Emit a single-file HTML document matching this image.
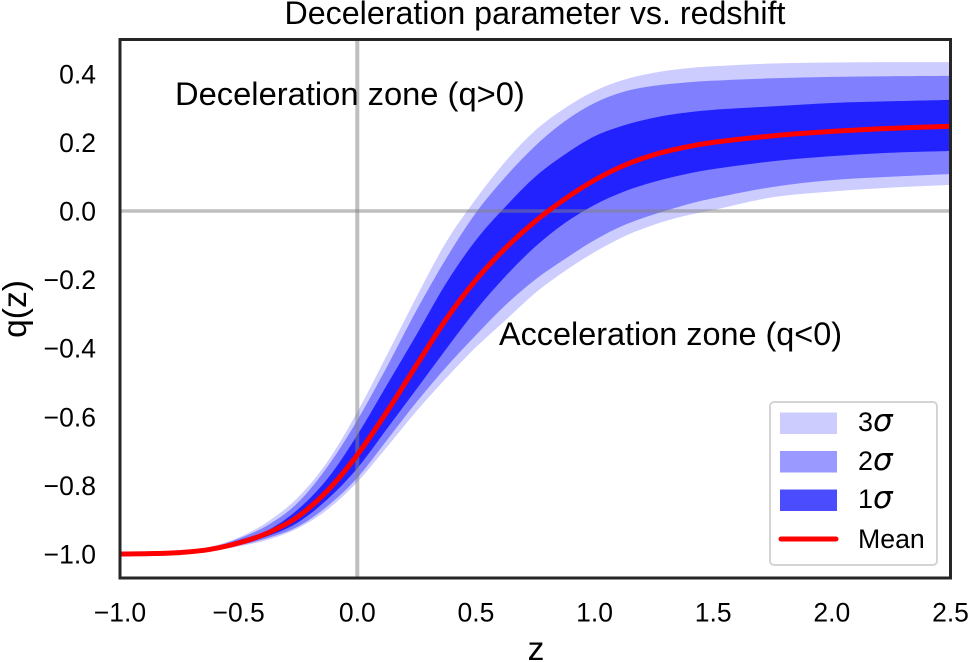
<!DOCTYPE html>
<html lang="en">
<head>
<meta charset="utf-8">
<title>Deceleration parameter vs. redshift</title>
<style>
html,body{margin:0;padding:0;background:#fff;}
svg{display:block;}
text{font-family:"Liberation Sans",Arial,sans-serif;fill:#000;}
</style>
</head>
<body>
<svg id="chart" xmlns="http://www.w3.org/2000/svg" width="969" height="662" viewBox="0 0 969 662">
  <rect x="0" y="0" width="969" height="662" fill="#fff"/>
  <defs>
    <clipPath id="plot-clip"><rect x="120" y="39" width="831" height="539"/></clipPath>
  </defs>
  <g id="plot-area" clip-path="url(#plot-clip)"></g>
  <text x="175" y="105" font-size="32.7">Deceleration zone (q&gt;0)</text>
  <text x="499" y="345" font-size="32.4">Acceleration zone (q&lt;0)</text>
  <rect x="120" y="39.5" width="830.5" height="538.5" fill="none" stroke="#262626" stroke-width="3"/>
  <g id="x-ticks"></g>
  <g id="y-ticks"></g>
  <text x="535" y="24" font-size="32.2" text-anchor="middle">Deceleration parameter vs. redshift</text>
  <text x="536" y="660" font-size="33.5" text-anchor="middle">z</text>
  <text transform="translate(26 309) rotate(-90)" font-size="33.5" text-anchor="middle">q(z)</text>
  <g>
    <rect x="770" y="402" width="167" height="163" rx="4" ry="4" fill="#fff" stroke="#d4d4d4" stroke-width="2"/>
    <rect x="780" y="412.5" width="57" height="21.5" fill="#ccccff"/>
    <text x="858" y="431" font-size="27">3<tspan font-family="DejaVu Sans" font-style="italic" font-size="31">σ</tspan></text>
    <rect x="780" y="451" width="57" height="21.5" fill="#9999ff"/>
    <text x="858" y="470" font-size="27">2<tspan font-family="DejaVu Sans" font-style="italic" font-size="31">σ</tspan></text>
    <rect x="780" y="489.5" width="57" height="21.5" fill="#4c4cff"/>
    <text x="858" y="508" font-size="27">1<tspan font-family="DejaVu Sans" font-style="italic" font-size="31">σ</tspan></text>
    <line x1="781" y1="539" x2="836" y2="539" stroke="#ff0000" stroke-width="5" stroke-linecap="round"/>
    <text x="858" y="548" font-size="26.7">Mean</text>
  </g>
</svg>
<script>
const redshiftValues = [-1, -0.875, -0.75, -0.625, -0.5, -0.375, -0.25, -0.125, 0, 0.125, 0.25, 0.375, 0.5, 0.625, 0.75, 0.875, 1, 1.125, 1.25, 1.375, 1.5, 1.75, 2, 2.25, 2.5];
const meanValues  = [-1, -0.999, -0.996, -0.987, -0.968, -0.938, -0.891, -0.815, -0.711, -0.585, -0.449, -0.315, -0.201, -0.108, -0.03, 0.035, 0.09, 0.133, 0.164, 0.185, 0.2, 0.219, 0.232, 0.241, 0.247];
const upper1Sigma = [-1, -0.999, -0.996, -0.984, -0.96, -0.93, -0.87, -0.78, -0.653, -0.507, -0.36, -0.21, -0.085, 0.013, 0.1, 0.165, 0.218, 0.25, 0.272, 0.286, 0.295, 0.305, 0.315, 0.32, 0.324];
const lower1Sigma = [-1, -0.999, -0.997, -0.986, -0.97, -0.947, -0.908, -0.84, -0.75, -0.635, -0.519, -0.402, -0.289, -0.19, -0.104, -0.035, 0.018, 0.057, 0.085, 0.106, 0.122, 0.145, 0.16, 0.17, 0.175];
const upper2Sigma = [-1, -0.999, -0.995, -0.982, -0.955, -0.915, -0.85, -0.745, -0.61, -0.454, -0.289, -0.138, -0.005, 0.1, 0.19, 0.262, 0.315, 0.348, 0.365, 0.374, 0.38, 0.387, 0.391, 0.393, 0.394];
const lower2Sigma = [-1, -0.999, -0.997, -0.988, -0.975, -0.953, -0.92, -0.86, -0.778, -0.668, -0.557, -0.455, -0.362, -0.274, -0.2, -0.14, -0.085, -0.041, -0.01, 0.016, 0.037, 0.07, 0.09, 0.1, 0.108];
const upper3Sigma = [-1, -0.999, -0.994, -0.98, -0.952, -0.905, -0.835, -0.73, -0.586, -0.42, -0.25, -0.09, 0.035, 0.145, 0.235, 0.3, 0.35, 0.383, 0.403, 0.415, 0.422, 0.43, 0.433, 0.434, 0.434];
const lower3Sigma = [-1, -0.999, -0.997, -0.99, -0.978, -0.958, -0.925, -0.87, -0.79, -0.688, -0.583, -0.487, -0.397, -0.318, -0.239, -0.175, -0.12, -0.074, -0.04, -0.015, 0.003, 0.04, 0.057, 0.068, 0.076];
const xTickValues = [-1, -0.5, 0, 0.5, 1, 1.5, 2, 2.5];
const xTickLabels = ['\u22121.0', '\u22120.5', '0.0', '0.5', '1.0', '1.5', '2.0', '2.5'];
const yTickValues = [0.4, 0.2, 0, -0.2, -0.4, -0.6, -0.8, -1];
const yTickLabels = ['0.4', '0.2', '0.0', '\u22120.2', '\u22120.4', '\u22120.6', '\u22120.8', '\u22121.0'];

const SVG_NS = 'http://www.w3.org/2000/svg';
function xScale(z) { return 120 + (z + 1) * (950.5 - 120) / 3.5; }
function yScale(q) { return 211 - q * 343; }

function curveSegments(zs, qs) {
  const pts = zs.map(function (z, i) { return [xScale(z), yScale(qs[i])]; });
  let d = '';
  for (let i = 0; i < pts.length - 1; i++) {
    const p0 = pts[Math.max(i - 1, 0)];
    const p1 = pts[i];
    const p2 = pts[i + 1];
    const p3 = pts[Math.min(i + 2, pts.length - 1)];
    const c1x = p1[0] + (p2[0] - p0[0]) / 6;
    const c1y = p1[1] + (p2[1] - p0[1]) / 6;
    const c2x = p2[0] - (p3[0] - p1[0]) / 6;
    const c2y = p2[1] - (p3[1] - p1[1]) / 6;
    d += ' C' + c1x.toFixed(2) + ' ' + c1y.toFixed(2) + ' ' + c2x.toFixed(2) + ' ' + c2y.toFixed(2) + ' ' + p2[0].toFixed(2) + ' ' + p2[1].toFixed(2);
  }
  return { start: pts[0], end: pts[pts.length - 1], d: d };
}
function linePath(zs, qs) {
  const c = curveSegments(zs, qs);
  return 'M' + c.start[0].toFixed(2) + ' ' + c.start[1].toFixed(2) + c.d;
}
function bandPath(zs, upper, lower) {
  const top = curveSegments(zs, upper);
  const rz = zs.slice().reverse();
  const rl = lower.slice().reverse();
  const bottom = curveSegments(rz, rl);
  return 'M' + top.start[0].toFixed(2) + ' ' + top.start[1].toFixed(2) + top.d +
    ' L' + bottom.start[0].toFixed(2) + ' ' + bottom.start[1].toFixed(2) + bottom.d + ' Z';
}

const plot = document.getElementById('plot-area');

const band3 = document.createElementNS(SVG_NS, 'path');


band3.setAttribute('d', bandPath(redshiftValues, upper3Sigma, lower3Sigma));
band3.setAttribute('fill', '#ccccff');
plot.appendChild(band3);

const band2 = document.createElementNS(SVG_NS, 'path');


band2.setAttribute('d', bandPath(redshiftValues, upper2Sigma, lower2Sigma));
band2.setAttribute('fill', '#8080ff');
plot.appendChild(band2);

const band1 = document.createElementNS(SVG_NS, 'path');


band1.setAttribute('d', bandPath(redshiftValues, upper1Sigma, lower1Sigma));
band1.setAttribute('fill', '#2222ff');
plot.appendChild(band1);

const zeroH = document.createElementNS(SVG_NS, 'line');


zeroH.setAttribute('x1', xScale(-1));
zeroH.setAttribute('x2', xScale(2.5));
zeroH.setAttribute('y1', yScale(0));
zeroH.setAttribute('y2', yScale(0));
zeroH.setAttribute('stroke', 'rgba(128,128,128,0.5)');
zeroH.setAttribute('stroke-width', '3.5');
plot.appendChild(zeroH);

const zeroV = document.createElementNS(SVG_NS, 'line');


zeroV.setAttribute('x1', xScale(0));
zeroV.setAttribute('x2', xScale(0));
zeroV.setAttribute('y1', 39);
zeroV.setAttribute('y2', 578);
zeroV.setAttribute('stroke', 'rgba(128,128,128,0.5)');
zeroV.setAttribute('stroke-width', '4');
plot.appendChild(zeroV);

const meanLine = document.createElementNS(SVG_NS, 'path');


meanLine.setAttribute('d', linePath(redshiftValues, meanValues));
meanLine.setAttribute('fill', 'none');
meanLine.setAttribute('stroke', '#ff0000');
meanLine.setAttribute('stroke-width', '5');
plot.appendChild(meanLine);

const xTicks = document.getElementById('x-ticks');
xTickValues.forEach(function (v, i) {
  const t = document.createElementNS(SVG_NS, 'text');
  
  
  t.setAttribute('x', xScale(v));
  t.setAttribute('y', 621.5);
  t.setAttribute('font-size', '26.5');
  t.setAttribute('text-anchor', 'middle');
  t.textContent = xTickLabels[i];
  xTicks.appendChild(t);
});

const yTicks = document.getElementById('y-ticks');
yTickValues.forEach(function (v, i) {
  const t = document.createElementNS(SVG_NS, 'text');
  
  
  t.setAttribute('x', 96);
  t.setAttribute('y', yScale(v) + 9.5);
  t.setAttribute('font-size', '26.5');
  t.setAttribute('text-anchor', 'end');
  t.textContent = yTickLabels[i];
  yTicks.appendChild(t);
});
</script>
</body>
</html>
